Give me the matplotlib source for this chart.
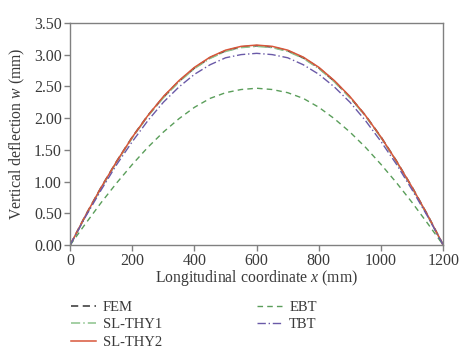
import matplotlib
matplotlib.use("Agg")
import matplotlib.pyplot as plt

# ------------------------ Data ------------------------
x_mm = [0, 50, 100, 150, 200, 250, 300, 350, 400, 450, 500, 550, 600,
        650, 700, 750, 800, 850, 900, 950, 1000, 1050, 1100, 1150, 1200]

fem = [0.00, 0.47, 0.91, 1.32, 1.70, 2.04, 2.33, 2.58, 2.79, 2.95, 3.06, 3.12, 3.14,
       3.12, 3.06, 2.95, 2.79, 2.58, 2.33, 2.04, 1.70, 1.32, 0.91, 0.47, 0.00]
sl_thy1 = [0.00, 0.46, 0.90, 1.31, 1.69, 2.03, 2.32, 2.57, 2.78, 2.94, 3.05, 3.11, 3.13,
           3.11, 3.05, 2.94, 2.78, 2.57, 2.32, 2.03, 1.69, 1.31, 0.90, 0.46, 0.00]
sl_thy2 = [0.00, 0.47, 0.91, 1.32, 1.70, 2.04, 2.34, 2.59, 2.80, 2.96, 3.07, 3.13, 3.15,
           3.13, 3.07, 2.96, 2.80, 2.59, 2.34, 2.04, 1.70, 1.32, 0.91, 0.47, 0.00]
ebt = [0.00, 0.34, 0.67, 0.98, 1.27, 1.54, 1.78, 1.99, 2.17, 2.31, 2.40, 2.45, 2.47,
       2.45, 2.40, 2.31, 2.17, 1.99, 1.78, 1.54, 1.27, 0.98, 0.67, 0.34, 0.00]
tbt = [0.00, 0.45, 0.87, 1.27, 1.63, 1.96, 2.25, 2.49, 2.69, 2.84, 2.95, 3.00, 3.02,
       3.00, 2.95, 2.84, 2.69, 2.49, 2.25, 1.96, 1.63, 1.27, 0.87, 0.45, 0.00]

x_ticks = [0, 200, 400, 600, 800, 1000, 1200]
y_ticks = [0.0, 0.5, 1.0, 1.5, 2.0, 2.5, 3.0, 3.5]

# ------------------------ Style ------------------------
plt.rcParams['font.family'] = ['Liberation Serif', 'DejaVu Serif']
plt.rcParams['mathtext.fontset'] = 'custom'
plt.rcParams['mathtext.it'] = 'Liberation Serif:italic'
plt.rcParams['mathtext.rm'] = 'Liberation Serif'

text_col = '#3a3a3a'
spine_col = '#808080'

fig = plt.figure(figsize=(4.74, 3.63), dpi=100)
ax = fig.add_axes([0.148, 0.325, 0.787, 0.612])

l_fem, = ax.plot(x_mm, fem, color='#505050', ls=(0, (4, 2.5)), lw=1.3, label='FEM')
l_sl1, = ax.plot(x_mm, sl_thy1, color='#8cc28c', ls=(0, (6, 2, 1, 2)), lw=1.1, label='SL-THY1')
l_sl2, = ax.plot(x_mm, sl_thy2, color='#d8563a', ls='-', lw=1.1, label='SL-THY2')
l_ebt, = ax.plot(x_mm, ebt, color='#5a9e5a', ls=(0, (4, 3)), lw=1.0, label='EBT')
l_tbt, = ax.plot(x_mm, tbt, color='#6a5aa8', ls=(0, (6, 2, 1, 2)), lw=1.0, label='TBT')

ax.set_xlim(0, 1200)
ax.set_ylim(0, 3.5)
ax.set_xticks(x_ticks)
ax.set_yticks(y_ticks)
ax.set_yticklabels([f"{v:.2f}" for v in y_ticks])

for s in ax.spines.values():
    s.set_color(spine_col)
    s.set_linewidth(1.0)
ax.tick_params(direction='out', length=4, width=1.0, color=spine_col,
               labelsize=11.5, labelcolor=text_col, pad=2)

ax.set_xlabel('Longitudinal coordinate $x$ (mm)', fontsize=11.3, color=text_col, labelpad=-1)
ax.set_ylabel('Vertical deflection $w$ (mm)', fontsize=11.3, color=text_col, labelpad=5)

fig.legend(handles=[l_fem, l_sl1, l_sl2, l_ebt, l_tbt], ncol=2, frameon=False,
           loc='upper left', bbox_to_anchor=(0.122, 0.208), fontsize=10.5,
           handlelength=1.7, handletextpad=0.5, columnspacing=6.5,
           labelspacing=0.3, labelcolor=text_col)

fig.savefig('out.png', dpi=100)
